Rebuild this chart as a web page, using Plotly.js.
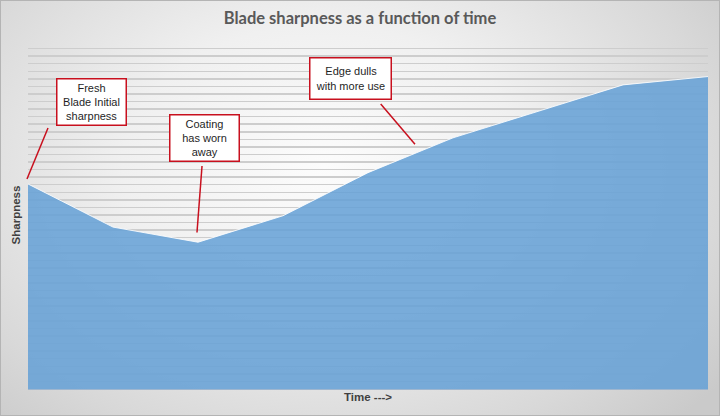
<!DOCTYPE html>
<html>
<head>
<meta charset="utf-8">
<script src="https://cdn.plot.ly/plotly-3.0.1.min.js"></script>
<style>
  html, body { margin: 0; padding: 0; }
  #wrap {
    width: 720px; height: 416px; position: relative;
    background: radial-gradient(ellipse 70% 85% at 45% 40%, #fcfcfc 0%, #f0f0f0 40%, #d8d8d8 80%, #cacaca 100%);
    box-shadow: inset 0 0 0 1px #b4b4b4;
  }
  #chart { width: 720px; height: 416px; }
</style>
</head>
<body>
<div id="wrap"><div id="chart"></div></div>
<script>
// Data
const timePoints = [0, 1, 2, 3, 4, 5, 6, 7, 8];
const sharpness  = [27.1, 21.4, 19.4, 22.9, 28.6, 33.2, 36.7, 40.2, 41.3];

const chartTitle = 'Blade sharpness as a function of time';
const xTitle = 'Time --->';
const yTitle = 'Sharpness';
const noteTexts = ['Fresh<br>Blade Initial<br>sharpness', 'Coating<br>has worn<br>away', 'Edge dulls<br>with more use'];

const trace = {
  x: timePoints,
  y: sharpness,
  type: 'scatter',
  mode: 'lines',
  fill: 'tozeroy',
  fillcolor: 'rgba(100,160,214,0.85)',
  line: { color: 'rgba(255,255,255,0.85)', width: 1 },
  hoverinfo: 'skip',
  showlegend: false
};

const boxFont = { family: "Arial, 'Liberation Sans', sans-serif", size: 11, color: '#1f1f1f' };
const boxStyle = {
  xref: 'paper', yref: 'paper', showarrow: false,
  bgcolor: '#ffffff', bordercolor: '#c8101e', borderwidth: 1.5, borderpad: 2,
  font: boxFont,
  align: 'center', xanchor: 'center', yanchor: 'middle'
};

const annotations = [
  Object.assign({}, boxStyle, { text: noteTexts[0], x: 0.0934, y: 0.8247, width: 64, height: 41 }),
  Object.assign({}, boxStyle, { text: noteTexts[1], x: 0.2596, y: 0.7213, width: 64, height: 41 }),
  Object.assign({}, boxStyle, { text: noteTexts[2], x: 0.4743, y: 0.8922, width: 76, height: 36 })
];

const lineStyle = { type: 'line', xref: 'paper', yref: 'paper', line: { color: '#c8101e', width: 1.5 } };
const shapes = [
  Object.assign({}, lineStyle, { x0: 0.0294, y0: 0.750, x1: -0.0015, y1: 0.6034 }),
  Object.assign({}, lineStyle, { x0: 0.2559, y0: 0.6408, x1: 0.2485, y1: 0.4497 }),
  Object.assign({}, lineStyle, { x0: 0.5187, y0: 0.819, x1: 0.5691, y1: 0.7032 })
];

const axisFont = { family: "Arial, 'Liberation Sans', sans-serif", size: 11.5, color: '#404040' };

const layout = {
  width: 720, height: 416,
  margin: { l: 28, r: 12, t: 41, b: 27, pad: 0 },
  paper_bgcolor: 'rgba(0,0,0,0)',
  plot_bgcolor: 'rgba(0,0,0,0)',
  title: {
    text: '<b>' + chartTitle + '</b>',
    font: { family: 'Lato, Open Sans, sans-serif', size: 16.5, color: '#595959' },
    x: 0.5, xanchor: 'center', y: 0.957, yanchor: 'middle'
  },
  xaxis: {
    range: [0, 8],
    showgrid: false, zeroline: false,
    showticklabels: false, ticks: '',
    showline: true, linecolor: '#9fb6cf', linewidth: 1,
    automargin: false,
    title: { text: '<b>' + xTitle + '</b>', standoff: 3, font: axisFont }
  },
  yaxis: {
    range: [0, 46], dtick: 1,
    showgrid: true, gridcolor: '#cdcdcd', gridwidth: 1.5,
    zeroline: false, showline: false,
    showticklabels: false, ticks: '',
    automargin: false,
    title: { text: '<b>' + yTitle + '</b>', standoff: 3, font: axisFont }
  },
  annotations: annotations,
  shapes: shapes
};

Plotly.newPlot('chart', [trace], layout, { staticPlot: true, displayModeBar: false });
</script>
</body>
</html>
